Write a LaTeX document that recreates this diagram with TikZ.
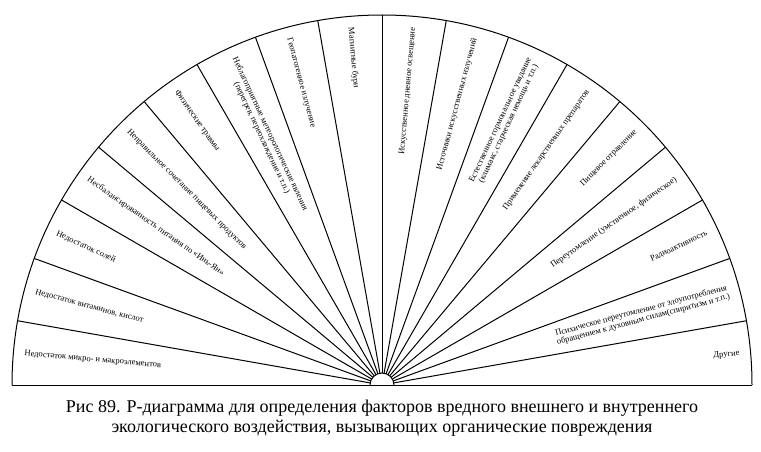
\documentclass[tikz,border=0pt]{standalone}
\usepackage{fontspec}
\setmainfont{Liberation Serif}
\usetikzlibrary{calc}
\begin{document}
\begin{tikzpicture}[x=1pt,y=1pt,
  fan/.style={line width=1pt},
  lbl/.style={font=\fontsize{8.5}{9}\selectfont, inner sep=1pt, align=center},
  captext/.style={font=\fontsize{18}{20}\selectfont, align=center}]
\useasboundingbox (0,0) rectangle (761,451);
\coordinate (O) at (382,66);
\draw[fan] (O) ++(-370,0) -- ++(740,0);
\draw[fan] (O) ++(370,0) arc (0:180:370);
\draw[fan] (O) ++(12,0) arc (0:180:12);
\foreach \a in {10,20,...,170} \draw[fan] (O) ++(\a:12) -- ++(\a:358);
\foreach \t [count=\i] in {
 {Недостаток микро- и макроэлементов},
 {Недостаток витаминов, кислот},
 {Недостаток солей},
 {Несбалансированность питания по «Инь-Ян»},
 {Неправильное сочетание пищевых продуктов},
 {Физические травмы},
 {Неблагоприятные метеорологические явления\\(перегрев, переохлаждение и т.п.)},
 {Геопатогенное излучение},
 {Магнитные бури}}
{ \pgfmathsetmacro\th{185-10*\i}
  \node[lbl, anchor=west, rotate=\th+180] at ($(O)+(\th:360)$) {\t}; }
\foreach \t [count=\i] in {
 {Искусственное дневное освещение},
 {Источники искусственных излучений},
 {Естественное гормональное увядание\\(климакс, старческая немощь и т.п.)},
 {Применение лекарственных препаратов},
 {Пищевое отравление},
 {Переутомление (умственное, физическое)},
 {Радиоактивность},
 {Психическое переутомление от злоупотребления\\обращением к духовным силам(спиритизм и т.п.)},
 {Другие}}
{ \pgfmathsetmacro\th{95-10*\i}
  \node[lbl, anchor=east, rotate=\th] at ($(O)+(\th:360)$) {\t}; }
\node[captext] (c) at (382,33) {Рис 89. Р-диаграмма для определения факторов вредного внешнего и внутреннего\\экологического воздействия, вызывающих органические повреждения};
\end{tikzpicture}
\end{document}
